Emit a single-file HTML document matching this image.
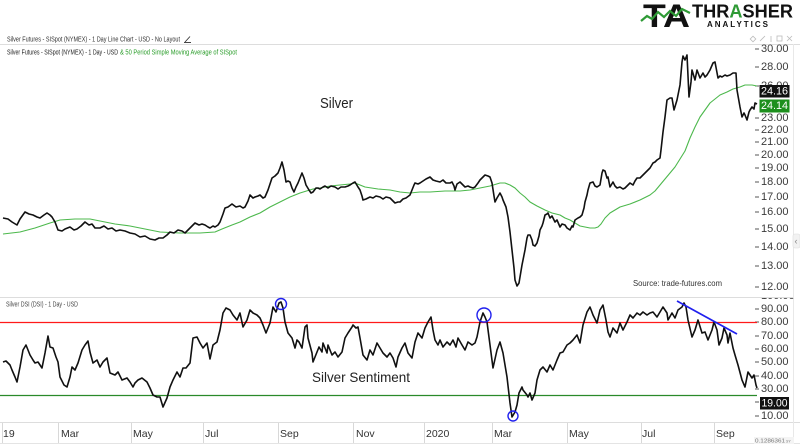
<!DOCTYPE html>
<html>
<head>
<meta charset="utf-8">
<style>
  html, body { margin:0; padding:0; background:#fff; }
  body { width:800px; height:445px; overflow:hidden; }
  svg { display:block; font-family:"Liberation Sans", "DejaVu Sans", sans-serif; }
</style>
</head>
<body>
<svg width="800" height="445" viewBox="0 0 800 445" xmlns="http://www.w3.org/2000/svg">
  <rect x="0" y="0" width="800" height="445" fill="#ffffff"/>

  <!-- Logo -->
  <g>
    <text x="643" y="27" font-size="32" font-weight="bold" fill="#111" textLength="47" lengthAdjust="spacingAndGlyphs">TA</text>
    <polyline points="641,21 647,16 652,19 658,12 664,17 670,11 676,16 682,9 690,13" fill="none" stroke="#2e9a35" stroke-width="2.2"/>
    <text x="692" y="17.5" font-size="18.5" font-weight="bold" fill="#111" textLength="101" lengthAdjust="spacingAndGlyphs">THR<tspan fill="#2e9a35">A</tspan>SHER</text>
    <text x="707" y="27" font-size="8" font-weight="bold" fill="#111" textLength="61" lengthAdjust="spacing">ANALYTICS</text>
  </g>

  <!-- toolbar icons -->
  <g fill="none" stroke="#bbb" stroke-width="0.8">
    <rect x="751" y="37" width="4" height="4" transform="rotate(45 753 39)"/>
    <line x1="760" y1="41" x2="765" y2="36"/>
    <line x1="771" y1="36" x2="771" y2="42"/>
    <rect x="777" y="36" width="5" height="5"/>
    <line x1="787" y1="36" x2="792" y2="41"/>
    <line x1="792" y1="36" x2="787" y2="41"/>
  </g>

  <!-- header texts -->
  <text x="7" y="41.5" font-size="7" fill="#333" textLength="173" lengthAdjust="spacingAndGlyphs">Silver Futures - SISpot (NYMEX) - 1 Day Line Chart - USD - No Layout</text>
  <g stroke="#333" stroke-width="0.9" fill="none">
    <line x1="185" y1="42" x2="190" y2="36.5"/>
    <line x1="184" y1="42.5" x2="191" y2="42.5"/>
  </g>
  <line x1="0" y1="44.5" x2="800" y2="44.5" stroke="#dddddd" stroke-width="1"/>
  <text x="7" y="54.5" font-size="7" fill="#222" textLength="111" lengthAdjust="spacingAndGlyphs">Silver Futures - SISpot (NYMEX) - 1 Day - USD</text>
  <text x="120" y="54.5" font-size="7" fill="#2a9d2a" textLength="117" lengthAdjust="spacingAndGlyphs">&amp; 50 Period Simple Moving Average of SISpot</text>

  <!-- frame lines -->
  <line x1="0" y1="297.5" x2="793" y2="297.5" stroke="#dddddd" stroke-width="1"/>
  <line x1="0" y1="422.5" x2="800" y2="422.5" stroke="#dddddd" stroke-width="1"/>
  <line x1="0" y1="443.5" x2="800" y2="443.5" stroke="#e4e4e4" stroke-width="1"/>
  <line x1="793.5" y1="44" x2="793.5" y2="443" stroke="#e8e8e8" stroke-width="1"/>
  <rect x="793" y="234" width="7" height="14" rx="2" fill="#f2f2f2" stroke="#ddd" stroke-width="0.6"/>
  <text x="794.5" y="244" font-size="9" fill="#888">‹</text>

  <!-- Price axis labels -->
  <g font-size="11" fill="#3a3a3a" dominant-baseline="central">
    <text x="761" y="49">30.00</text>
    <text x="761" y="67">28.00</text>
    <text x="761" y="86">26.00</text>
    <text x="761" y="118">23.00</text>
    <text x="761" y="130">22.00</text>
    <text x="761" y="142">21.00</text>
    <text x="761" y="155">20.00</text>
    <text x="761" y="168">19.00</text>
    <text x="761" y="182">18.00</text>
    <text x="761" y="197">17.00</text>
    <text x="761" y="212">16.00</text>
    <text x="761" y="229">15.00</text>
    <text x="761" y="247">14.00</text>
    <text x="761" y="266">13.00</text>
    <text x="761" y="287">12.00</text>
  </g>
  <g stroke="#555" stroke-width="1">
    <line x1="755" y1="49" x2="759" y2="49"/>
    <line x1="755" y1="67" x2="759" y2="67"/>
    <line x1="755" y1="86" x2="759" y2="86"/>
    <line x1="755" y1="118" x2="759" y2="118"/>
    <line x1="755" y1="130" x2="759" y2="130"/>
    <line x1="755" y1="142" x2="759" y2="142"/>
    <line x1="755" y1="155" x2="759" y2="155"/>
    <line x1="755" y1="168" x2="759" y2="168"/>
    <line x1="755" y1="182" x2="759" y2="182"/>
    <line x1="755" y1="197" x2="759" y2="197"/>
    <line x1="755" y1="212" x2="759" y2="212"/>
    <line x1="755" y1="229" x2="759" y2="229"/>
    <line x1="755" y1="247" x2="759" y2="247"/>
    <line x1="755" y1="266" x2="759" y2="266"/>
    <line x1="755" y1="287" x2="759" y2="287"/>
  </g>

  <!-- DSI axis labels -->
  <defs>
    <clipPath id="lowclip"><rect x="0" y="298" width="800" height="124"/></clipPath>
  </defs>
  <g font-size="11" fill="#3a3a3a" dominant-baseline="central" clip-path="url(#lowclip)">
    <text x="761" y="296">100.00</text>
    <text x="761" y="309">90.00</text>
    <text x="761" y="322">80.00</text>
    <text x="761" y="336">70.00</text>
    <text x="761" y="349">60.00</text>
    <text x="761" y="362">50.00</text>
    <text x="761" y="376">40.00</text>
    <text x="761" y="389">30.00</text>
    <text x="761" y="416">10.00</text>
  </g>
  <g stroke="#555" stroke-width="1">
    <line x1="755" y1="309" x2="759" y2="309"/>
    <line x1="755" y1="322" x2="759" y2="322"/>
    <line x1="755" y1="336" x2="759" y2="336"/>
    <line x1="755" y1="349" x2="759" y2="349"/>
    <line x1="755" y1="362" x2="759" y2="362"/>
    <line x1="755" y1="376" x2="759" y2="376"/>
    <line x1="755" y1="389" x2="759" y2="389"/>
    <line x1="755" y1="402" x2="759" y2="402"/>
    <line x1="755" y1="416" x2="759" y2="416"/>
  </g>

  <!-- Date axis -->
  <g stroke="#d8d8d8" stroke-width="1">
    <line x1="2.5" y1="423" x2="2.5" y2="443"/>
    <line x1="58.5" y1="423" x2="58.5" y2="443"/>
    <line x1="131.5" y1="423" x2="131.5" y2="443"/>
    <line x1="203.5" y1="423" x2="203.5" y2="443"/>
    <line x1="278.5" y1="423" x2="278.5" y2="443"/>
    <line x1="353.5" y1="423" x2="353.5" y2="443"/>
    <line x1="424.5" y1="423" x2="424.5" y2="443"/>
    <line x1="492.5" y1="423" x2="492.5" y2="443"/>
    <line x1="567.5" y1="423" x2="567.5" y2="443"/>
    <line x1="641.5" y1="423" x2="641.5" y2="443"/>
    <line x1="714.5" y1="423" x2="714.5" y2="443"/>
  </g>
  <g font-size="10.5" fill="#333" dominant-baseline="central">
    <text x="3" y="434">19</text>
    <text x="61" y="434">Mar</text>
    <text x="133" y="434">May</text>
    <text x="205" y="434">Jul</text>
    <text x="280" y="434">Sep</text>
    <text x="356" y="434">Nov</text>
    <text x="426" y="434">2020</text>
    <text x="494" y="434">Mar</text>
    <text x="569" y="434">May</text>
    <text x="642" y="434">Jul</text>
    <text x="716" y="434">Sep</text>
  </g>
  <rect x="754" y="437" width="40" height="7" fill="#f4f4f4"/>
  <text x="755" y="442.5" font-size="5.5" fill="#777" textLength="30" lengthAdjust="spacingAndGlyphs">0.1286361</text>
  <text x="786" y="442.5" font-size="4.5" fill="#888">ꜱʏ</text>

  <!-- Annotations text -->
  <text x="320" y="108" font-size="14.5" fill="#222" textLength="33" lengthAdjust="spacingAndGlyphs">Silver</text>
  <text x="312" y="382" font-size="14" fill="#222" textLength="98" lengthAdjust="spacingAndGlyphs">Silver Sentiment</text>
  <text x="633" y="286" font-size="8.5" fill="#333" textLength="89" lengthAdjust="spacingAndGlyphs">Source: trade-futures.com</text>
  <text x="6" y="306.5" font-size="7" fill="#444" textLength="72" lengthAdjust="spacingAndGlyphs">Silver DSI (DSI) - 1 Day - USD</text>

  <!-- Moving average -->
  <polyline fill="none" stroke="#4cb84c" stroke-width="1.1" stroke-linejoin="round"
    points="3,234 20,232 35,228 50,223 60,220 75,219 90,219 100,221 115,224 130,226 140,228 160,232 180,233 200,233 215,232 222,229 232,225 240,222 250,217 260,213 270,207 280,202 290,197 300,193 313,189 320,188 330,186 340,185 350,184 355,183 360,185 365,187 378,189 390,190 400,192 410,193 420,192 430,192 445,191 460,191 470,190 480,188 490,186 500,183 505,183 510,185 515,188 520,193 525,197 530,202 537,206 545,210 552,213 560,215 565,218 570,220 575,223 580,226 585,227 590,228 595,228 598,227 601,224 605,218 610,213 615,210 620,207 630,204 640,200 650,195 655,191 660,185 665,179 670,173 675,167 680,159 685,151 690,138 695,127 700,117 705,110 710,103 715,99 720,95 727,92 733,89 740,87 745,85 752,85 757,86"/>

  <!-- Price line -->
  <polyline fill="none" stroke="#111" stroke-width="1.6" stroke-linejoin="round"
    points="3,218 8,219 12,222 17,225 20,219 25,212 29,214 33,215 37,217 40,218 44,215 47,213 50,215 52,217 55,222 58,230 62,231 65,229 70,227 74,230 77,229 81,226 85,222 89,225 92,224 95,228 100,228 104,226 108,229 112,228 116,231 120,230 125,231 130,233 135,234 140,237 145,236 150,239 155,240 159,238 163,238 167,235 170,232 174,233 178,230 182,231 185,233 188,230 192,226 195,223 199,225 202,224 205,225 208,227 210,228 213,226 215,227 218,225 220,222 223,214 225,208 228,207 232,204 236,207 240,206 243,208 245,207 248,201 250,195 253,198 255,197 258,196 260,195 263,198 265,197 268,190 270,184 272,178 275,176 278,173 280,168 282,162 284,170 286,182 288,181 290,182 292,188 294,192 296,187 298,183 300,178 302,173 304,178 306,185 309,190 311,193 313,192 316,188 318,188 320,189 323,187 325,186 328,188 331,186 335,187 338,189 341,187 345,187 348,186 350,185 353,183 355,182 358,187 360,190 362,196 363,200 366,199 370,197 373,198 376,196 380,197 383,199 386,197 390,198 393,201 395,203 398,202 400,202 403,199 406,198 410,195 412,190 414,185 415,183 418,184 420,183 423,181 426,179 430,177 433,180 436,181 440,182 443,180 446,183 450,183 452,182 454,186 455,190 457,184 460,182 463,185 465,187 468,186 470,187 473,188 475,187 478,183 480,180 483,177 485,175 488,176 490,177 492,183 494,196 495,202 497,198 500,193 502,197 503,200 506,207 508,217 510,232 512,250 514,268 515,280 517,286 519,283 520,277 522,265 524,255 525,250 527,238 528,235 530,235 532,240 533,245 535,246 537,243 539,236 540,230 542,226 543,223 545,215 547,214 548,213 550,218 552,216 555,222 557,220 560,227 562,224 565,225 567,228 570,230 572,226 573,227 575,220 578,218 580,217 582,215 584,208 585,202 587,195 588,190 590,183 593,182 595,186 597,187 600,185 602,173 603,170 605,171 607,178 608,177 610,187 613,182 615,186 617,188 620,187 623,189 625,188 628,185 630,183 633,185 635,181 637,178 640,178 643,175 645,173 648,170 650,168 653,163 655,162 657,160 660,158 661,150 663,132 665,117 667,100 670,98 672,98 674,110 677,100 680,85 682,62 683,56 685,60 687,55 689,97 691,82 692,70 695,80 697,70 700,78 703,73 705,77 707,75 710,70 713,63 715,62 718,78 720,76 722,77 725,75 727,76 730,75 733,73 736,73 737,90 740,107 742,117 744,113 745,115 747,120 749,112 750,110 752,107 754,109 755,103 757,104"/>

  <!-- Price labels -->
  <rect x="759.5" y="85" width="30" height="12.5" fill="#111"/>
  <text x="761" y="91.5" font-size="11" fill="#fff" dominant-baseline="central" textLength="27" lengthAdjust="spacingAndGlyphs">24.16</text>
  <rect x="759.5" y="99.5" width="30" height="13" fill="#1d8f1d"/>
  <text x="761" y="106" font-size="11" fill="#fff" dominant-baseline="central" textLength="27" lengthAdjust="spacingAndGlyphs">24.14</text>

  <!-- DSI horizontal levels -->
  <line x1="0" y1="322.5" x2="757" y2="322.5" stroke="#ff1a1a" stroke-width="1.2"/>
  <line x1="0" y1="395.5" x2="757" y2="395.5" stroke="#2a8a2a" stroke-width="1.2"/>

  <!-- DSI line -->
  <polyline fill="none" stroke="#111" stroke-width="1.6" stroke-linejoin="round"
    points="3,362 6,361 8,363 10,365 12,370 15,377 17,382 20,367 23,350 26,345 28,350 30,355 33,360 35,363 38,362 42,368 45,353 48,336 50,347 53,348 56,357 58,362 60,377 64,385 67,387 70,377 72,367 75,370 78,363 82,350 85,345 88,341 90,352 93,363 97,360 100,367 103,362 107,358 110,373 115,375 118,372 122,380 127,378 130,382 133,387 135,383 138,380 142,378 147,382 150,388 153,395 157,397 160,397 163,407 167,398 170,387 173,380 177,372 180,377 183,368 186,368 190,363 193,338 197,337 200,343 203,348 207,343 210,359 213,345 217,342 220,330 223,313 226,308 230,310 233,315 237,320 240,313 243,327 247,320 250,310 253,313 257,315 260,318 263,325 266,333 270,323 273,307 276,312 279,303 281,302 283,308 285,322 288,333 292,338 295,348 297,340 299,342 302,348 305,327 307,325 308,338 312,353 313,362 317,352 319,347 322,352 323,343 327,353 328,345 332,355 335,352 338,357 342,352 345,338 348,333 352,327 353,325 356,328 358,327 360,338 363,355 367,360 370,350 373,355 377,343 380,348 383,353 387,357 390,353 393,358 396,367 398,357 402,348 405,343 408,353 412,358 415,342 418,333 422,338 425,328 428,322 431,317 433,330 435,340 438,345 440,340 443,347 447,342 450,345 453,340 456,347 458,338 462,345 465,350 468,342 472,345 475,343 477,337 480,322 483,313 485,317 487,322 490,345 493,368 497,350 500,342 503,353 507,377 510,403 512,417 515,412 517,405 519,393 522,387 523,390 527,395 528,397 530,393 532,400 535,393 537,380 540,370 543,367 547,372 550,365 553,370 557,360 560,353 563,352 567,345 570,343 573,340 577,335 580,343 583,325 587,312 590,307 593,315 597,323 600,310 603,305 606,320 608,332 610,337 613,328 617,333 620,323 623,330 627,322 630,315 633,318 637,313 640,315 643,312 647,315 650,313 653,312 657,317 660,312 663,307 667,313 668,320 672,313 675,318 678,310 682,307 684,303 686,307 688,320 692,337 695,330 698,320 702,333 705,332 708,340 712,330 714,322 717,330 719,345 722,338 724,328 727,335 728,343 730,333 733,348 735,355 738,365 742,380 745,387 748,372 752,378 754,375 756,385 757,388"/>

  <!-- Blue annotations -->
  <circle cx="281" cy="304" r="5.5" fill="none" stroke="#2020ee" stroke-width="1.4"/>
  <circle cx="484" cy="315" r="7" fill="none" stroke="#2020ee" stroke-width="1.4"/>
  <circle cx="513" cy="416" r="5" fill="none" stroke="#2020ee" stroke-width="1.4"/>
  <line x1="677" y1="301" x2="737" y2="334" stroke="#2020ee" stroke-width="1.7"/>

  <!-- DSI value label -->
  <rect x="760" y="397" width="29" height="12.5" fill="#111"/>
  <text x="761.5" y="403.5" font-size="11" fill="#fff" dominant-baseline="central" textLength="26" lengthAdjust="spacingAndGlyphs">19.00</text>
</svg>
</body>
</html>
